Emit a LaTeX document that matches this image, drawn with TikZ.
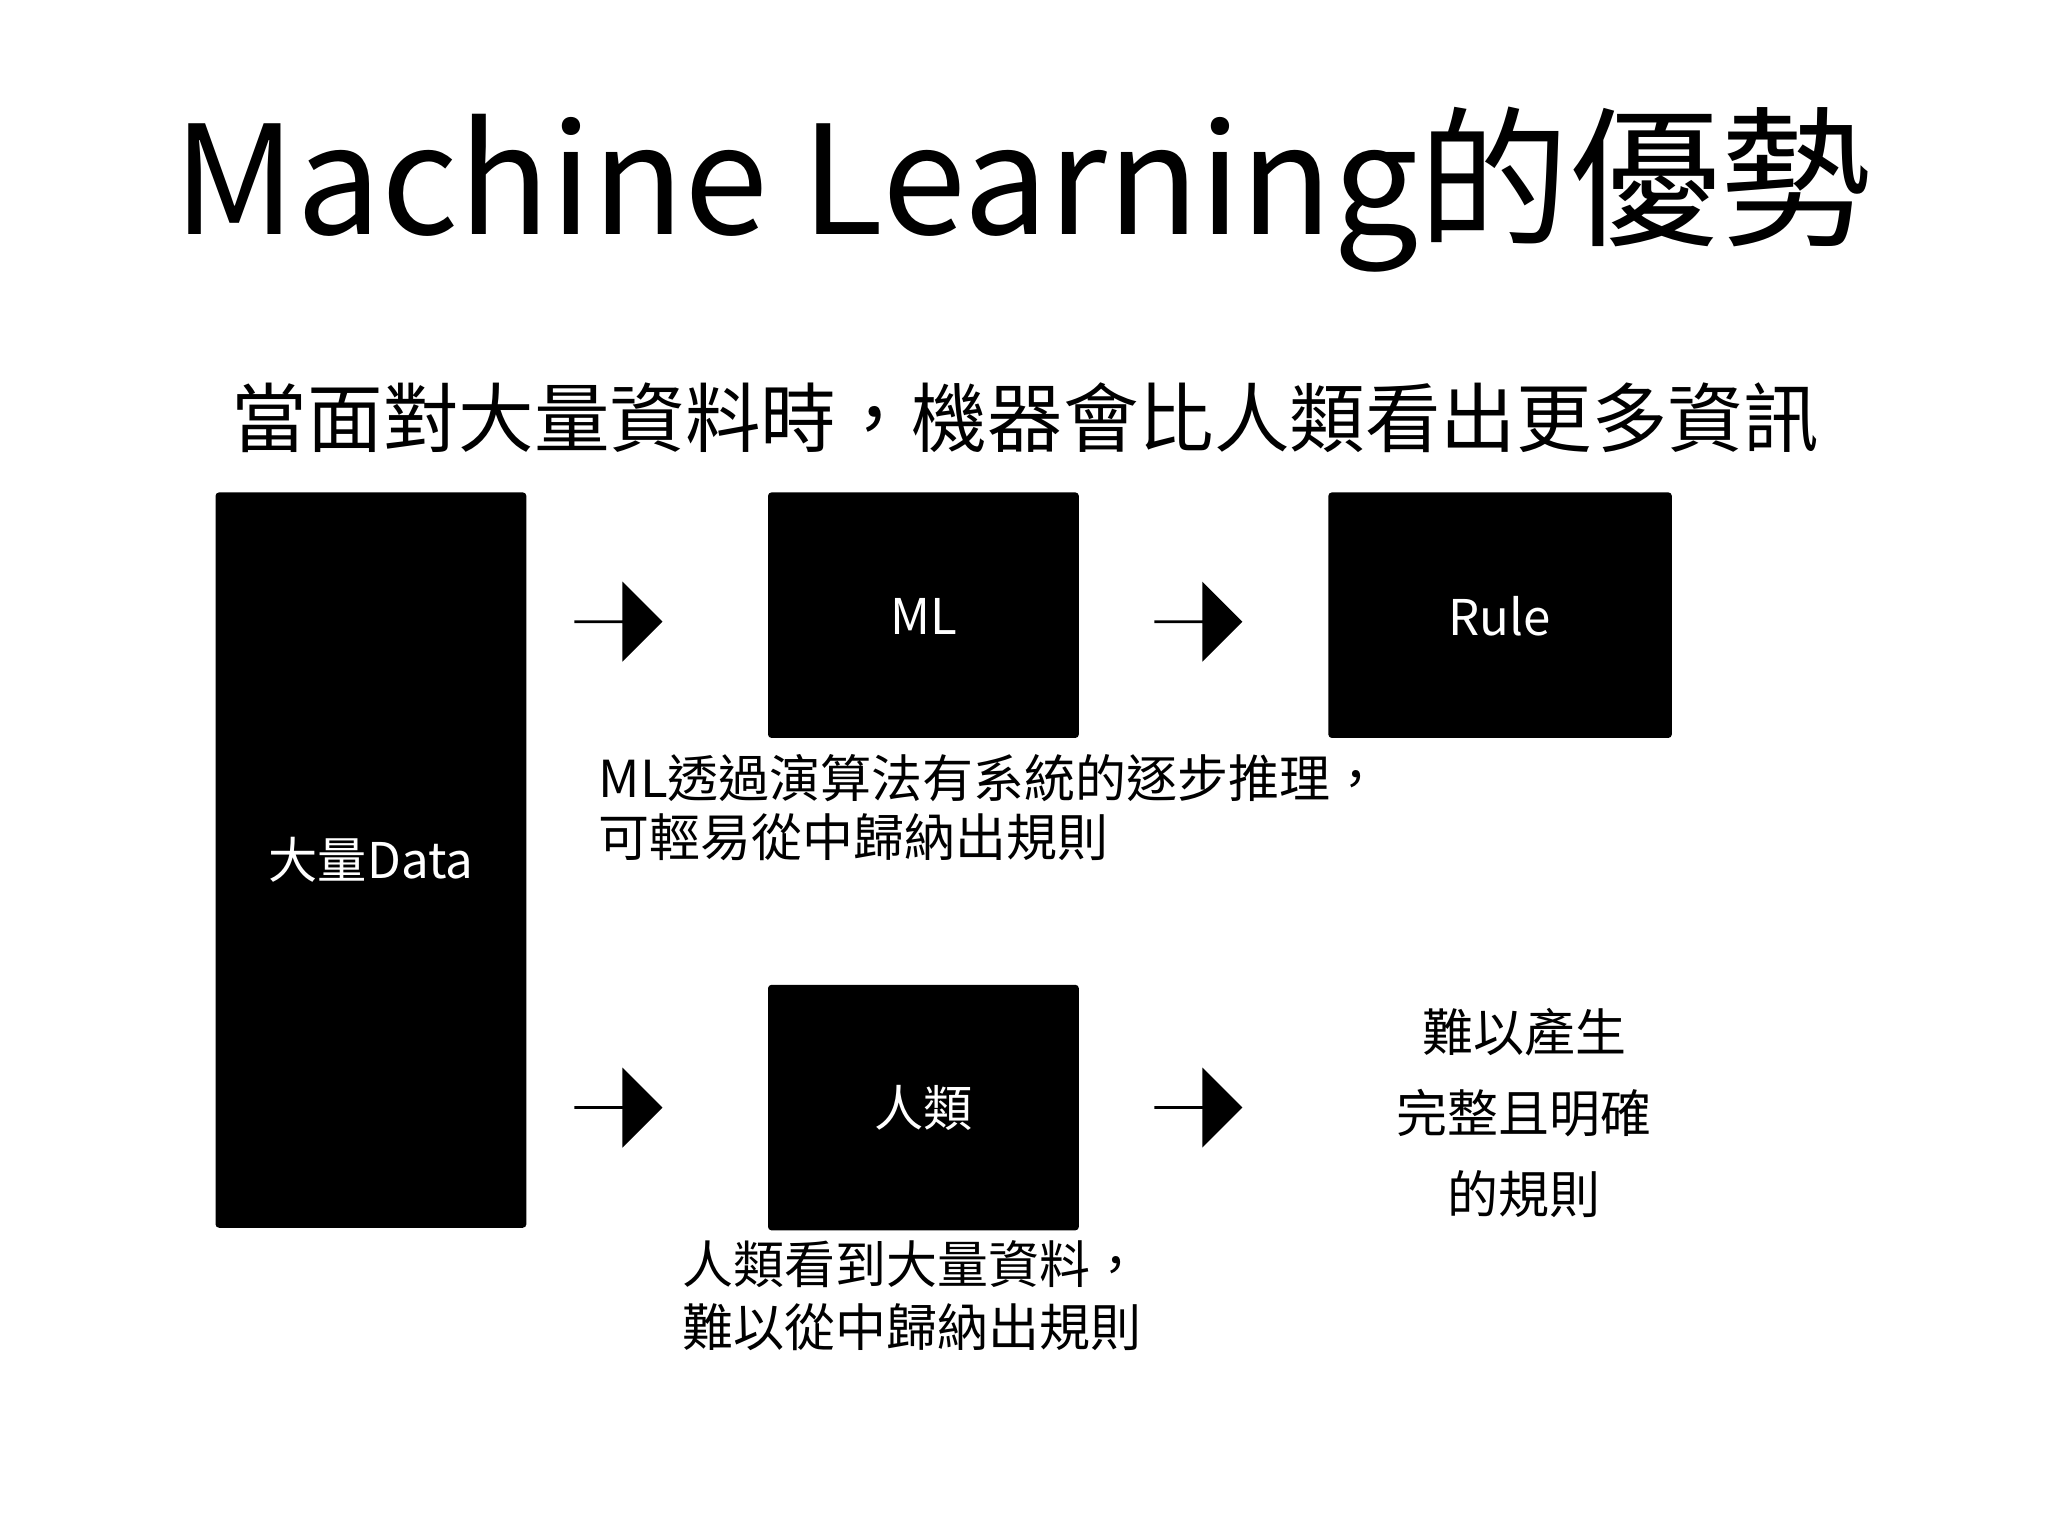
\documentclass[tikz,border=0pt]{standalone}
\usepackage{fontspec}
\setmainfont{Noto Sans CJK TC}
\usetikzlibrary{shapes.arrows}
\begin{document}
\begin{tikzpicture}[x=0.01306cm,y=-0.01306cm,
  box/.style={fill=black,rounded corners=1pt},
  lbl/.style={text=white,font=\fontsize{14}{16}\selectfont},
  txt/.style={font=\fontsize{14.5}{17}\selectfont,inner sep=0pt},
  barr/.style={single arrow,fill=black,minimum width=0.80cm,single arrow head extend=0.2cm,minimum height=0.88cm,inner sep=0pt,shape border rotate=0}]
\useasboundingbox (0,0) rectangle (1568,1176);
\node[font=\fontsize{43}{50}\selectfont] (title) at (783,145) {Machine Learning的優勢};
\node[font=\fontsize{21.5}{26}\selectfont] (sub) at (785,320) {當面對大量資料時，機器會比人類看出更多資訊};
\fill[box] (165,377) rectangle (403,940);
\node[lbl] (data) at (284,658) {大量Data};
\fill[box] (588,377) rectangle (826,565);
\node[lbl] (ml) at (707,472) {ML};
\fill[box] (1017,377) rectangle (1280,565);
\node[lbl] (rule) at (1148,472) {Rule};
\fill[box] (588,754) rectangle (826,942);
\node[lbl] (hu) at (707,848) {人類};
\node[barr] (a1) at (473,476) {};
\node[barr] (a2) at (917,476) {};
\node[barr] (a3) at (473,848) {};
\node[barr] (a4) at (917,848) {};
\node[txt,anchor=west] (t1) at (458,596) {ML透過演算法有系統的逐步推理，};
\node[txt,anchor=west] (t2) at (458,641) {可輕易從中歸納出規則};
\node[txt,anchor=west] (t3) at (522,968) {人類看到大量資料，};
\node[txt,anchor=west] (t4) at (522,1016) {難以從中歸納出規則};
\node[txt,align=center] (t5) at (1167,852) {難以產生\\[6pt]完整且明確\\[6pt]的規則};
\end{tikzpicture}
\end{document}
